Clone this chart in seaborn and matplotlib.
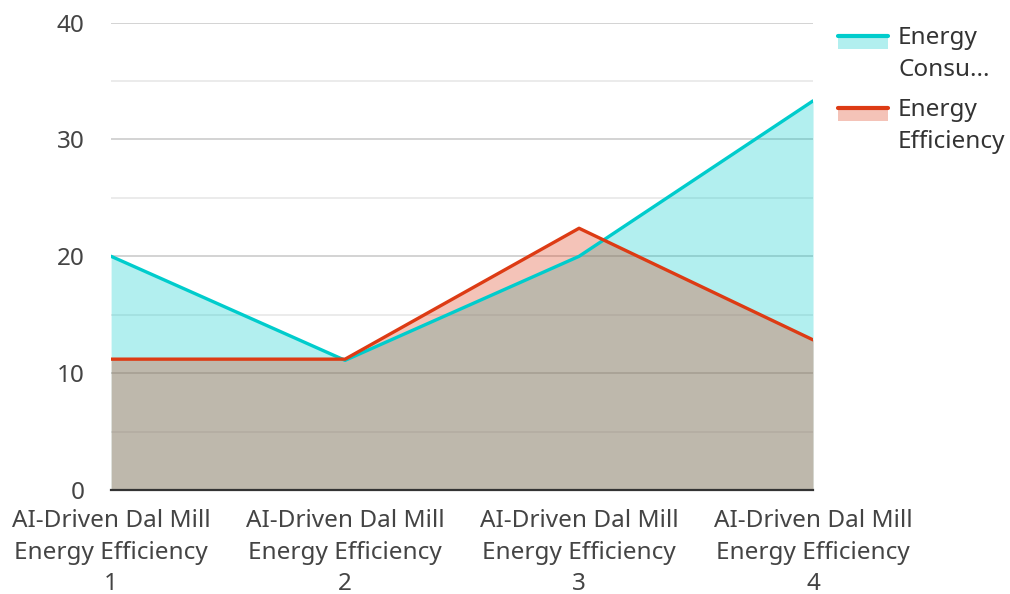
import numpy as np
import pandas as pd
import seaborn as sns
import matplotlib
matplotlib.use("Agg")
import matplotlib.pyplot as plt
from matplotlib.legend_handler import HandlerBase
from matplotlib.patches import Rectangle
from matplotlib.lines import Line2D

categories = [
    "AI-Driven Dal Mill\nEnergy Efficiency\n1",
    "AI-Driven Dal Mill\nEnergy Efficiency\n2",
    "AI-Driven Dal Mill\nEnergy Efficiency\n3",
    "AI-Driven Dal Mill\nEnergy Efficiency\n4",
]
consumption = [20.0, 11.1, 20.0, 33.3]
efficiency = [11.2, 11.2, 22.4, 12.85]
series_labels = ["Energy\nConsu...", "Energy\nEfficiency"]
colors = ["#00CCCC", "#DD3B14"]

FS = 17.5
LS = 1.43

sns.set_theme(style="white")
plt.rcParams["font.family"] = ["Noto Sans", "DejaVu Sans"]

df = pd.DataFrame({
    "x": list(range(len(categories))) * 2,
    "value": consumption + efficiency,
    "series": [series_labels[0]] * 4 + [series_labels[1]] * 4,
})

fig = plt.figure(figsize=(10.10, 5.94), dpi=100)
ax = fig.add_axes([0.110, 0.175, 0.695, 0.787])

x = np.arange(len(categories))
for vals, c in zip([consumption, efficiency], colors):
    ax.fill_between(x, 0, vals, color=c, alpha=0.30, linewidth=0, zorder=1)

sns.lineplot(data=df, x="x", y="value", hue="series", palette=colors,
             linewidth=2.4, ax=ax, legend=False, zorder=3)

ax.set_xlim(0, 3)
ax.set_ylim(0, 40)
ax.set_yticks([0, 10, 20, 30, 40])
ax.set_yticks([5, 15, 25, 35], minor=True)
ax.set_xticks(x)
ax.set_xticklabels(categories)
ax.set_xlabel("")
ax.set_ylabel("")
ax.grid(axis="y", which="major", color="#CCCCCC", linewidth=1.2)
ax.grid(axis="y", which="minor", color="#E8E8E8", linewidth=1.2)
ax.set_axisbelow(True)
for s in ["left", "right", "top"]:
    ax.spines[s].set_visible(False)
ax.spines["bottom"].set_color("#333333")
ax.spines["bottom"].set_linewidth(1.6)
ax.spines["bottom"].set_zorder(4)
ax.tick_params(axis="both", which="both", length=0, labelsize=FS,
               labelcolor="#444444")
ax.tick_params(axis="x", pad=13.5)
ax.tick_params(axis="y", pad=19)
for t in ax.get_xticklabels():
    t.set_linespacing(LS)


class AreaHandler(HandlerBase):
    def __init__(self, color):
        super().__init__()
        self.color = color

    def create_artists(self, legend, orig_handle, xdescent, ydescent,
                       width, height, fontsize, trans):
        top = -ydescent + height + 0.42 * fontsize
        rect = Rectangle((-xdescent, top - 0.55 * fontsize), width,
                         0.55 * fontsize, facecolor=self.color, alpha=0.30,
                         edgecolor="none", transform=trans)
        line = Line2D([-xdescent, -xdescent + width], [top, top],
                      color=self.color, linewidth=3, transform=trans)
        return [rect, line]


handles = [Rectangle((0, 0), 1, 1) for _ in colors]
leg = fig.legend(handles, series_labels,
                 handler_map={h: AreaHandler(c) for h, c in zip(handles, colors)},
                 loc="upper left", bbox_to_anchor=(838 / 1010, 1 - 26 / 594),
                 frameon=False, fontsize=FS, handlelength=2.06,
                 handleheight=0.7, handletextpad=0.41, labelspacing=0.68,
                 borderpad=0, borderaxespad=0, labelcolor="#333333")
for t in leg.get_texts():
    t.set_linespacing(LS)

fig.savefig("out.png", dpi=100, facecolor="white")
